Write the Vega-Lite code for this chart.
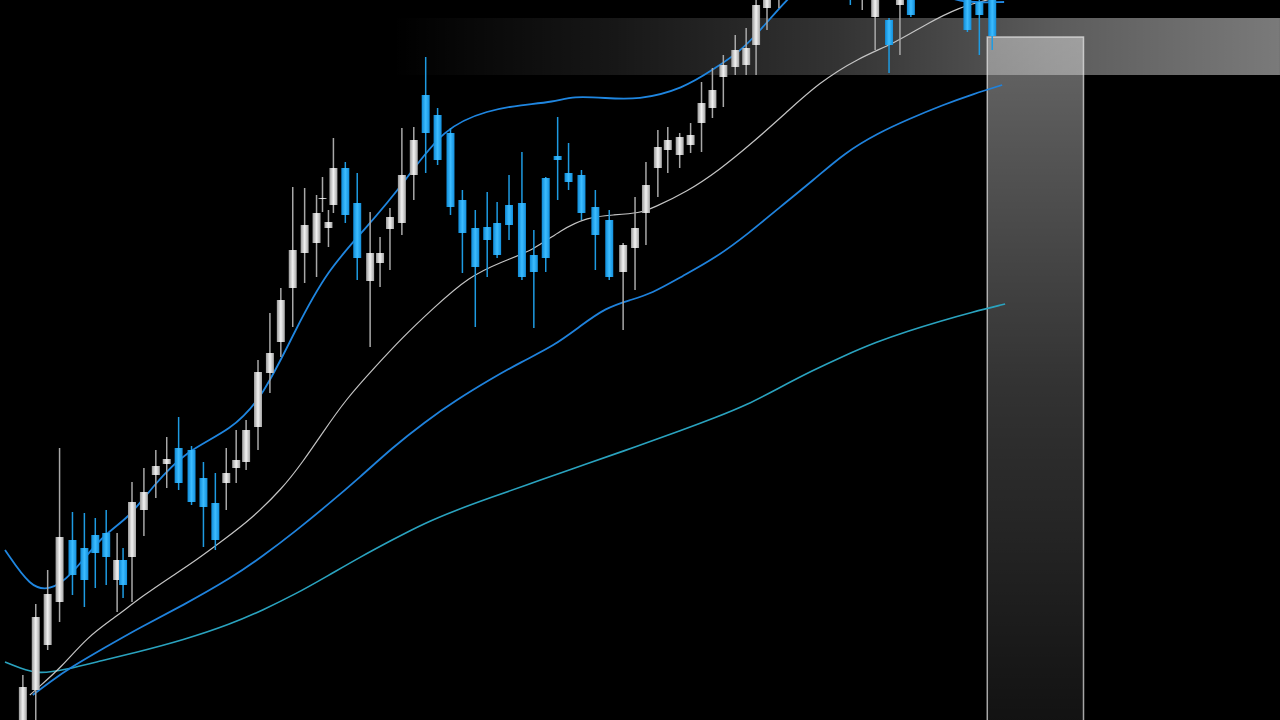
{
  "$schema": "https://vega.github.io/schema/vega-lite/v6.json",
  "width": 1280,
  "height": 720,
  "padding": 0,
  "autosize": {"type": "none"},
  "background": "#000000",
  "config": {"view": {"stroke": null}},
  "datasets": {
    "zones": [
      {"zone": "band", "t": 390, "t2": 1285, "v": 645, "v2": 702},
      {"zone": "column", "t": 990, "t2": 1087, "v": -5, "v2": 683}
    ],
    "ma": [
      {"s": "upper", "t": 0, "v": 170}, {"s": "upper", "t": 26, "v": 132}, {"s": "upper", "t": 45, "v": 130}, {"s": "upper", "t": 65, "v": 142}, {"s": "upper", "t": 98, "v": 185}, {"s": "upper", "t": 124, "v": 201}, {"s": "upper", "t": 150, "v": 235}, {"s": "upper", "t": 182, "v": 269}, {"s": "upper", "t": 228, "v": 290}, {"s": "upper", "t": 260, "v": 323}, {"s": "upper", "t": 293, "v": 391}, {"s": "upper", "t": 325, "v": 450}, {"s": "upper", "t": 364, "v": 492}, {"s": "upper", "t": 403, "v": 538}, {"s": "upper", "t": 442, "v": 593}, {"s": "upper", "t": 488, "v": 610}, {"s": "upper", "t": 520, "v": 615}, {"s": "upper", "t": 553, "v": 618}, {"s": "upper", "t": 573, "v": 624}, {"s": "upper", "t": 605, "v": 622}, {"s": "upper", "t": 638, "v": 620}, {"s": "upper", "t": 683, "v": 631}, {"s": "upper", "t": 716, "v": 652}, {"s": "upper", "t": 740, "v": 668}, {"s": "upper", "t": 760, "v": 688}, {"s": "upper", "t": 787, "v": 720}, {"s": "upper", "t": 820, "v": 750}, {"s": "upper", "t": 870, "v": 770}, {"s": "upper", "t": 900, "v": 760}, {"s": "upper", "t": 940, "v": 725}, {"s": "upper", "t": 967, "v": 717}, {"s": "upper", "t": 1007, "v": 718},
      {"s": "mid", "t": 25, "v": 25}, {"s": "mid", "t": 33, "v": 32}, {"s": "mid", "t": 57, "v": 53}, {"s": "mid", "t": 83, "v": 83}, {"s": "mid", "t": 110, "v": 102}, {"s": "mid", "t": 140, "v": 125}, {"s": "mid", "t": 167, "v": 143}, {"s": "mid", "t": 193, "v": 160}, {"s": "mid", "t": 220, "v": 180}, {"s": "mid", "t": 247, "v": 200}, {"s": "mid", "t": 280, "v": 232}, {"s": "mid", "t": 300, "v": 258}, {"s": "mid", "t": 320, "v": 287}, {"s": "mid", "t": 343, "v": 320}, {"s": "mid", "t": 373, "v": 353}, {"s": "mid", "t": 400, "v": 382}, {"s": "mid", "t": 433, "v": 413}, {"s": "mid", "t": 467, "v": 443}, {"s": "mid", "t": 500, "v": 458}, {"s": "mid", "t": 533, "v": 470}, {"s": "mid", "t": 560, "v": 490}, {"s": "mid", "t": 587, "v": 503}, {"s": "mid", "t": 613, "v": 505}, {"s": "mid", "t": 640, "v": 507}, {"s": "mid", "t": 653, "v": 512}, {"s": "mid", "t": 687, "v": 528}, {"s": "mid", "t": 720, "v": 550}, {"s": "mid", "t": 753, "v": 577}, {"s": "mid", "t": 787, "v": 607}, {"s": "mid", "t": 820, "v": 637}, {"s": "mid", "t": 860, "v": 662}, {"s": "mid", "t": 897, "v": 677}, {"s": "mid", "t": 930, "v": 697}, {"s": "mid", "t": 963, "v": 713}, {"s": "mid", "t": 983, "v": 718}, {"s": "mid", "t": 1000, "v": 723},
      {"s": "slow", "t": 28, "v": 25}, {"s": "slow", "t": 45, "v": 38}, {"s": "slow", "t": 67, "v": 53}, {"s": "slow", "t": 100, "v": 72}, {"s": "slow", "t": 135, "v": 92}, {"s": "slow", "t": 180, "v": 115}, {"s": "slow", "t": 228, "v": 142}, {"s": "slow", "t": 260, "v": 164}, {"s": "slow", "t": 293, "v": 189}, {"s": "slow", "t": 325, "v": 215}, {"s": "slow", "t": 358, "v": 243}, {"s": "slow", "t": 390, "v": 272}, {"s": "slow", "t": 423, "v": 298}, {"s": "slow", "t": 455, "v": 320}, {"s": "slow", "t": 488, "v": 340}, {"s": "slow", "t": 520, "v": 358}, {"s": "slow", "t": 553, "v": 374}, {"s": "slow", "t": 580, "v": 394}, {"s": "slow", "t": 605, "v": 412}, {"s": "slow", "t": 630, "v": 420}, {"s": "slow", "t": 651, "v": 426}, {"s": "slow", "t": 683, "v": 444}, {"s": "slow", "t": 716, "v": 462}, {"s": "slow", "t": 750, "v": 487}, {"s": "slow", "t": 781, "v": 513}, {"s": "slow", "t": 815, "v": 540}, {"s": "slow", "t": 846, "v": 567}, {"s": "slow", "t": 880, "v": 587}, {"s": "slow", "t": 911, "v": 601}, {"s": "slow", "t": 945, "v": 615}, {"s": "slow", "t": 976, "v": 626}, {"s": "slow", "t": 1005, "v": 635},
      {"s": "long", "t": 0, "v": 58}, {"s": "long", "t": 15, "v": 52}, {"s": "long", "t": 33, "v": 46}, {"s": "long", "t": 60, "v": 50}, {"s": "long", "t": 100, "v": 60}, {"s": "long", "t": 130, "v": 67}, {"s": "long", "t": 180, "v": 80}, {"s": "long", "t": 228, "v": 96}, {"s": "long", "t": 260, "v": 110}, {"s": "long", "t": 293, "v": 126}, {"s": "long", "t": 325, "v": 144}, {"s": "long", "t": 358, "v": 163}, {"s": "long", "t": 390, "v": 180}, {"s": "long", "t": 423, "v": 197}, {"s": "long", "t": 455, "v": 210}, {"s": "long", "t": 488, "v": 222}, {"s": "long", "t": 540, "v": 240}, {"s": "long", "t": 586, "v": 256}, {"s": "long", "t": 635, "v": 273}, {"s": "long", "t": 683, "v": 290}, {"s": "long", "t": 715, "v": 302}, {"s": "long", "t": 748, "v": 315}, {"s": "long", "t": 780, "v": 332}, {"s": "long", "t": 813, "v": 349}, {"s": "long", "t": 845, "v": 364}, {"s": "long", "t": 878, "v": 378}, {"s": "long", "t": 910, "v": 389}, {"s": "long", "t": 943, "v": 399}, {"s": "long", "t": 975, "v": 408}, {"s": "long", "t": 1008, "v": 416}
    ],
    "candles": [
      {"t": 18, "o": -5, "h": 45, "l": -15, "c": 33},
      {"t": 31, "o": 30, "h": 116, "l": -10, "c": 103},
      {"t": 43, "o": 75, "h": 150, "l": 70, "c": 126},
      {"t": 55, "o": 118, "h": 272, "l": 98, "c": 183},
      {"t": 68, "o": 180, "h": 208, "l": 125, "c": 145},
      {"t": 80, "o": 172, "h": 207, "l": 113, "c": 140},
      {"t": 91, "o": 185, "h": 202, "l": 132, "c": 167},
      {"t": 102, "o": 187, "h": 210, "l": 135, "c": 163},
      {"t": 113, "o": 140, "h": 187, "l": 108, "c": 160},
      {"t": 119, "o": 160, "h": 172, "l": 122, "c": 135},
      {"t": 128, "o": 163, "h": 238, "l": 118, "c": 218},
      {"t": 140, "o": 210, "h": 252, "l": 184, "c": 228},
      {"t": 152, "o": 245, "h": 270, "l": 222, "c": 254},
      {"t": 163, "o": 256, "h": 283, "l": 232, "c": 261},
      {"t": 175, "o": 272, "h": 303, "l": 230, "c": 237},
      {"t": 188, "o": 270, "h": 274, "l": 215, "c": 218},
      {"t": 200, "o": 242, "h": 258, "l": 173, "c": 213},
      {"t": 212, "o": 217, "h": 247, "l": 170, "c": 180},
      {"t": 223, "o": 237, "h": 272, "l": 210, "c": 247},
      {"t": 233, "o": 252, "h": 290, "l": 237, "c": 260},
      {"t": 243, "o": 258, "h": 300, "l": 250, "c": 290},
      {"t": 255, "o": 293, "h": 360, "l": 270, "c": 348},
      {"t": 267, "o": 347, "h": 407, "l": 327, "c": 367},
      {"t": 278, "o": 378, "h": 432, "l": 363, "c": 420},
      {"t": 290, "o": 432, "h": 533, "l": 393, "c": 470},
      {"t": 302, "o": 467, "h": 532, "l": 437, "c": 495},
      {"t": 314, "o": 477, "h": 525, "l": 443, "c": 507},
      {"t": 320, "o": 521, "h": 543, "l": 508, "c": 522},
      {"t": 326, "o": 492, "h": 510, "l": 473, "c": 498},
      {"t": 331, "o": 515, "h": 582, "l": 507, "c": 552},
      {"t": 343, "o": 552, "h": 558, "l": 497, "c": 505},
      {"t": 355, "o": 517, "h": 547, "l": 440, "c": 462},
      {"t": 368, "o": 439, "h": 508, "l": 373, "c": 467},
      {"t": 378, "o": 457, "h": 483, "l": 433, "c": 467},
      {"t": 388, "o": 491, "h": 512, "l": 450, "c": 503},
      {"t": 400, "o": 497, "h": 592, "l": 485, "c": 545},
      {"t": 412, "o": 545, "h": 593, "l": 520, "c": 580},
      {"t": 424, "o": 625, "h": 663, "l": 547, "c": 587},
      {"t": 436, "o": 605, "h": 612, "l": 555, "c": 560},
      {"t": 449, "o": 587, "h": 592, "l": 505, "c": 513},
      {"t": 461, "o": 520, "h": 530, "l": 447, "c": 487},
      {"t": 474, "o": 492, "h": 510, "l": 393, "c": 453},
      {"t": 486, "o": 493, "h": 528, "l": 443, "c": 480},
      {"t": 496, "o": 497, "h": 518, "l": 462, "c": 465},
      {"t": 508, "o": 515, "h": 545, "l": 480, "c": 495},
      {"t": 521, "o": 517, "h": 568, "l": 440, "c": 443},
      {"t": 533, "o": 465, "h": 490, "l": 392, "c": 448},
      {"t": 545, "o": 542, "h": 543, "l": 448, "c": 462},
      {"t": 557, "o": 564, "h": 603, "l": 520, "c": 560},
      {"t": 568, "o": 547, "h": 577, "l": 530, "c": 538},
      {"t": 581, "o": 545, "h": 550, "l": 500, "c": 507},
      {"t": 595, "o": 513, "h": 530, "l": 450, "c": 485},
      {"t": 609, "o": 500, "h": 510, "l": 440, "c": 443},
      {"t": 623, "o": 448, "h": 477, "l": 390, "c": 475},
      {"t": 635, "o": 472, "h": 523, "l": 430, "c": 492},
      {"t": 646, "o": 507, "h": 558, "l": 475, "c": 535},
      {"t": 658, "o": 552, "h": 590, "l": 523, "c": 573},
      {"t": 668, "o": 570, "h": 593, "l": 547, "c": 580},
      {"t": 680, "o": 565, "h": 587, "l": 552, "c": 583},
      {"t": 691, "o": 575, "h": 597, "l": 567, "c": 585},
      {"t": 702, "o": 597, "h": 638, "l": 568, "c": 617},
      {"t": 713, "o": 612, "h": 652, "l": 602, "c": 630},
      {"t": 724, "o": 643, "h": 665, "l": 613, "c": 655},
      {"t": 736, "o": 653, "h": 685, "l": 645, "c": 670},
      {"t": 747, "o": 655, "h": 692, "l": 645, "c": 672},
      {"t": 757, "o": 675, "h": 725, "l": 645, "c": 715},
      {"t": 768, "o": 712, "h": 745, "l": 690, "c": 735},
      {"t": 780, "o": 730, "h": 765, "l": 712, "c": 755},
      {"t": 792, "o": 750, "h": 765, "l": 720, "c": 730},
      {"t": 804, "o": 740, "h": 780, "l": 730, "c": 770},
      {"t": 816, "o": 765, "h": 800, "l": 755, "c": 790},
      {"t": 828, "o": 790, "h": 805, "l": 750, "c": 760},
      {"t": 840, "o": 765, "h": 780, "l": 730, "c": 740},
      {"t": 852, "o": 750, "h": 760, "l": 715, "c": 725},
      {"t": 864, "o": 720, "h": 750, "l": 710, "c": 740},
      {"t": 877, "o": 703, "h": 740, "l": 670, "c": 730},
      {"t": 891, "o": 700, "h": 702, "l": 647, "c": 675},
      {"t": 902, "o": 715, "h": 750, "l": 665, "c": 740},
      {"t": 913, "o": 730, "h": 740, "l": 703, "c": 705},
      {"t": 925, "o": 760, "h": 770, "l": 725, "c": 735},
      {"t": 937, "o": 735, "h": 770, "l": 728, "c": 760},
      {"t": 948, "o": 745, "h": 780, "l": 735, "c": 770},
      {"t": 959, "o": 770, "h": 780, "l": 730, "c": 740},
      {"t": 970, "o": 735, "h": 745, "l": 688, "c": 690},
      {"t": 982, "o": 718, "h": 730, "l": 665, "c": 705},
      {"t": 995, "o": 740, "h": 750, "l": 670, "c": 684}
    ]
  },
  "layer": [
    {
      "data": {"name": "zones"},
      "transform": [{"filter": "datum.zone == 'band'"}],
      "mark": {
        "type": "rect", "clip": true,
        "fill": {"gradient": "linear", "x1": 0, "y1": 0, "x2": 1, "y2": 0,
          "stops": [
            {"offset": 0, "color": "rgba(255,255,255,0)"},
            {"offset": 0.25, "color": "rgba(255,255,255,0.09)"},
            {"offset": 0.5, "color": "rgba(255,255,255,0.2)"},
            {"offset": 0.75, "color": "rgba(255,255,255,0.36)"},
            {"offset": 1, "color": "rgba(255,255,255,0.48)"}
          ]}
      },
      "encoding": {
        "x": {"field": "t", "type": "quantitative", "scale": {"domain": [0, 1280], "nice": false, "zero": false}, "axis": null},
        "x2": {"field": "t2"},
        "y": {"field": "v", "type": "quantitative", "scale": {"domain": [0, 720], "nice": false, "zero": false}, "axis": null},
        "y2": {"field": "v2"}
      }
    },
    {
      "data": {"name": "zones"},
      "transform": [{"filter": "datum.zone == 'column'"}],
      "mark": {
        "type": "rect", "clip": true,
        "stroke": "#e8e8e8", "strokeOpacity": 0.7, "strokeWidth": 1.5,
        "fill": {"gradient": "linear", "x1": 0, "y1": 0, "x2": 0, "y2": 1,
          "stops": [
            {"offset": 0, "color": "rgba(255,255,255,0.4)"},
            {"offset": 0.5, "color": "rgba(255,255,255,0.2)"},
            {"offset": 1, "color": "rgba(255,255,255,0.07)"}
          ]}
      },
      "encoding": {
        "x": {"field": "t", "type": "quantitative", "scale": {"domain": [0, 1280], "nice": false, "zero": false}, "axis": null},
        "x2": {"field": "t2"},
        "y": {"field": "v", "type": "quantitative", "scale": {"domain": [0, 720], "nice": false, "zero": false}, "axis": null},
        "y2": {"field": "v2"}
      }
    },
    {
      "data": {"name": "ma"},
      "transform": [{"filter": "datum.s == 'long'"}],
      "mark": {"type": "line", "interpolate": "basis", "clip": true, "color": "#2aa3bf", "strokeWidth": 1.6},
      "encoding": {
        "x": {"field": "t", "type": "quantitative", "scale": {"domain": [0, 1280], "nice": false, "zero": false}, "axis": null},
        "y": {"field": "v", "type": "quantitative", "scale": {"domain": [0, 720], "nice": false, "zero": false}, "axis": null}
      }
    },
    {
      "data": {"name": "ma"},
      "transform": [{"filter": "datum.s == 'slow'"}],
      "mark": {"type": "line", "interpolate": "basis", "clip": true, "color": "#1f82dc", "strokeWidth": 1.8},
      "encoding": {
        "x": {"field": "t", "type": "quantitative", "scale": {"domain": [0, 1280], "nice": false, "zero": false}, "axis": null},
        "y": {"field": "v", "type": "quantitative", "scale": {"domain": [0, 720], "nice": false, "zero": false}, "axis": null}
      }
    },
    {
      "data": {"name": "ma"},
      "transform": [{"filter": "datum.s == 'mid'"}],
      "mark": {"type": "line", "interpolate": "basis", "clip": true, "color": "#c4c4c4", "strokeWidth": 1.2},
      "encoding": {
        "x": {"field": "t", "type": "quantitative", "scale": {"domain": [0, 1280], "nice": false, "zero": false}, "axis": null},
        "y": {"field": "v", "type": "quantitative", "scale": {"domain": [0, 720], "nice": false, "zero": false}, "axis": null}
      }
    },
    {
      "data": {"name": "ma"},
      "transform": [{"filter": "datum.s == 'upper'"}],
      "mark": {"type": "line", "interpolate": "basis", "clip": true, "color": "#1f86e0", "strokeWidth": 1.8},
      "encoding": {
        "x": {"field": "t", "type": "quantitative", "scale": {"domain": [0, 1280], "nice": false, "zero": false}, "axis": null},
        "y": {"field": "v", "type": "quantitative", "scale": {"domain": [0, 720], "nice": false, "zero": false}, "axis": null}
      }
    },
    {
      "data": {"name": "candles"},
      "mark": {"type": "rule", "clip": true, "strokeWidth": 1.5},
      "encoding": {
        "x": {"field": "t", "type": "quantitative", "scale": {"domain": [0, 1280], "nice": false, "zero": false}, "axis": null},
        "y": {"field": "l", "type": "quantitative", "scale": {"domain": [0, 720], "nice": false, "zero": false}, "axis": null},
        "y2": {"field": "h"},
        "color": {"condition": {"test": "datum.c >= datum.o", "value": "#a8a8a8"}, "value": "#1e9be2"}
      }
    },
    {
      "data": {"name": "candles"},
      "transform": [{"filter": "datum.c >= datum.o"}],
      "mark": {
        "type": "bar", "clip": true, "size": 8,
        "fill": {"gradient": "linear", "x1": 0, "y1": 0, "x2": 1, "y2": 0,
          "stops": [
            {"offset": 0, "color": "#9a9a9a"},
            {"offset": 0.5, "color": "#f2f2f2"},
            {"offset": 1, "color": "#a4a4a4"}
          ]}
      },
      "encoding": {
        "x": {"field": "t", "type": "quantitative", "scale": {"domain": [0, 1280], "nice": false, "zero": false}, "axis": null},
        "y": {"field": "o", "type": "quantitative", "scale": {"domain": [0, 720], "nice": false, "zero": false}, "axis": null},
        "y2": {"field": "c"}
      }
    },
    {
      "data": {"name": "candles"},
      "transform": [{"filter": "datum.c < datum.o"}],
      "mark": {
        "type": "bar", "clip": true, "size": 8,
        "fill": {"gradient": "linear", "x1": 0, "y1": 0, "x2": 1, "y2": 0,
          "stops": [
            {"offset": 0, "color": "#0f8ad6"},
            {"offset": 0.5, "color": "#3cbcff"},
            {"offset": 1, "color": "#128fdc"}
          ]}
      },
      "encoding": {
        "x": {"field": "t", "type": "quantitative", "scale": {"domain": [0, 1280], "nice": false, "zero": false}, "axis": null},
        "y": {"field": "o", "type": "quantitative", "scale": {"domain": [0, 720], "nice": false, "zero": false}, "axis": null},
        "y2": {"field": "c"}
      }
    }
  ]
}
